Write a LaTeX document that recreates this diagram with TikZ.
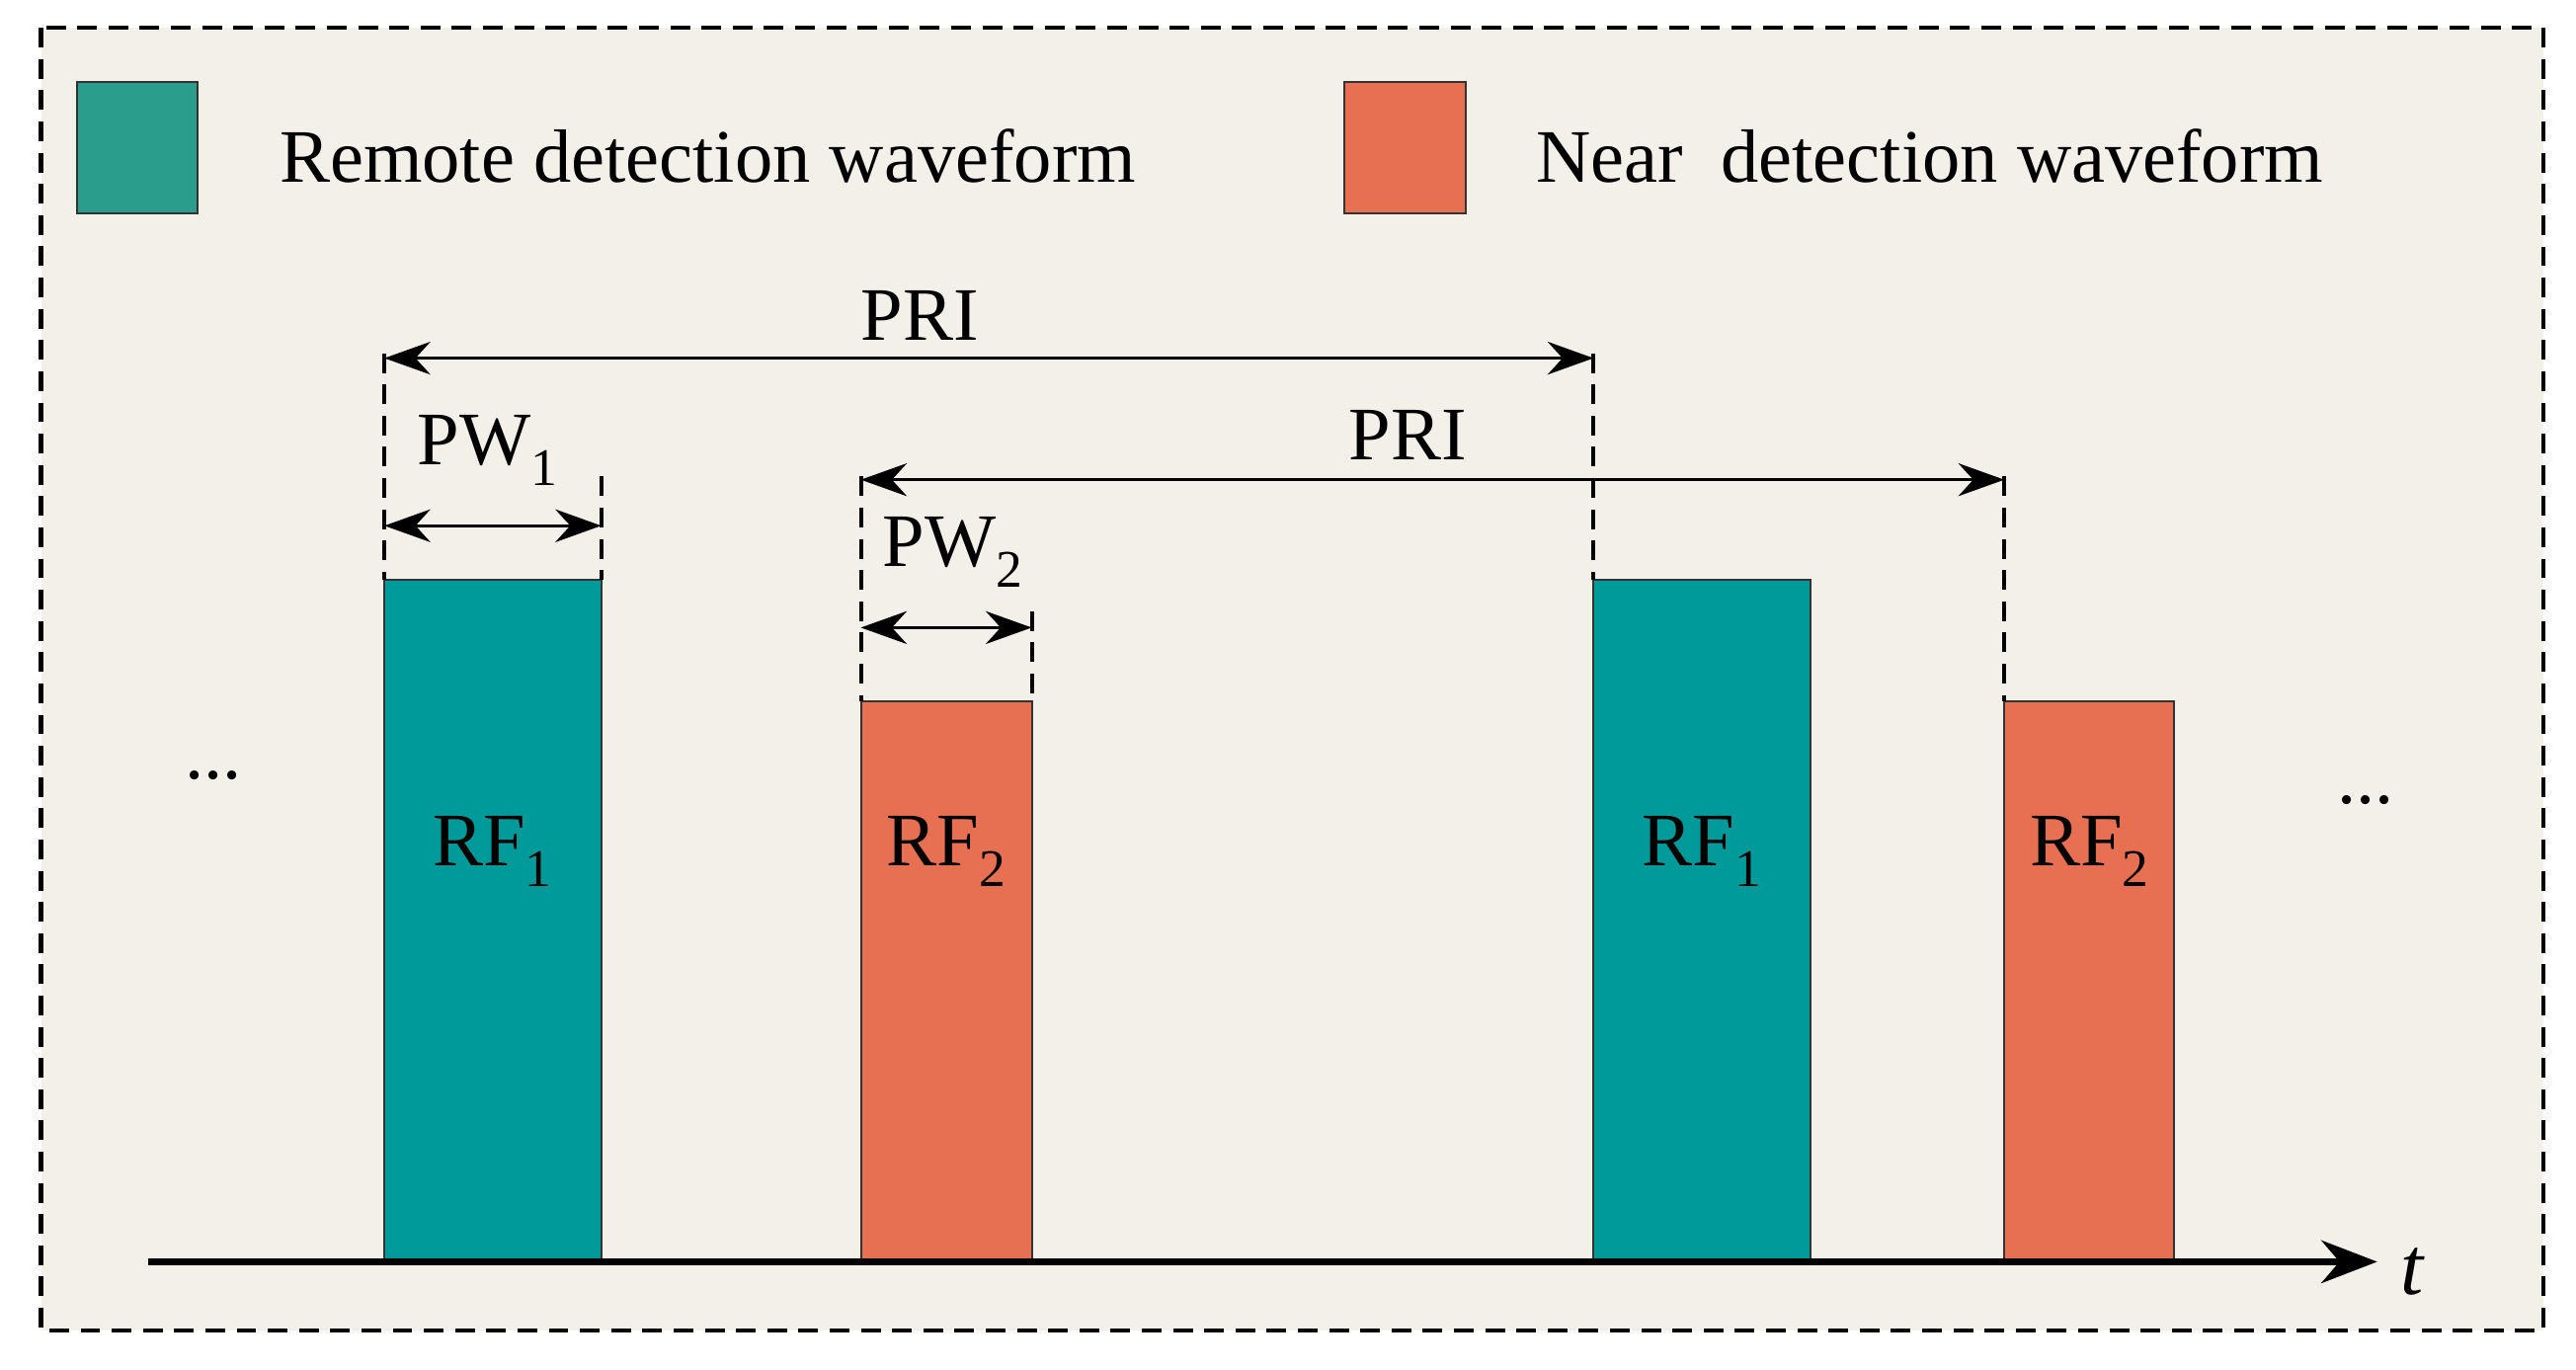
\documentclass[tikz,border=0pt]{standalone}
\usepackage{fontspec}
\setmainfont{Liberation Serif}
\usetikzlibrary{arrows.meta}
\definecolor{bg}{HTML}{F3F0EA}
\definecolor{teal1}{HTML}{009A9A}
\definecolor{tealL}{HTML}{2A9D8C}
\definecolor{orng}{HTML}{E87052}
\tikzset{
 bigtxt/.style={font=\fontsize{46}{52}\selectfont, inner sep=0pt},
 bar/.style={draw=black!80, line width=1.2pt},
 guide/.style={dashed, dash pattern=on 12pt off 7pt, line width=2.4pt},
 dim/.style={line width=1.6pt, {Stealth[length=28pt,width=20pt]}-{Stealth[length=28pt,width=20pt]}},
}
\begin{document}
\begin{tikzpicture}[x=1pt,y=-1pt]
\useasboundingbox (0,0) rectangle (1568,833.4);
\draw[fill=bg, guide, line width=2.6pt] (25,17) rectangle (1548,810);
% legend
\node[bar, fill=tealL, minimum width=73pt, minimum height=80pt, inner sep=0pt] (lt) at (83.5,90) {};
\node[bigtxt, anchor=west] (ltx) at (170,95) {Remote detection waveform};
\node[bar, fill=orng, minimum width=74pt, minimum height=80pt, inner sep=0pt] (lo) at (855,90) {};
\node[bigtxt, anchor=west] (lox) at (935,95) {Near\ \ detection waveform};
% bars
\draw[bar, fill=teal1] (234,353) rectangle (366,768);
\draw[bar, fill=orng] (524,427) rectangle (628,768);
\draw[bar, fill=teal1] (970,353) rectangle (1102,768);
\draw[bar, fill=orng] (1220,427) rectangle (1323,768);
\node[bigtxt] (rf1a) at (300,518) {RF\textsubscript{1}};
\node[bigtxt] (rf2a) at (576,518) {RF\textsubscript{2}};
\node[bigtxt] (rf1b) at (1036,518) {RF\textsubscript{1}};
\node[bigtxt] (rf2b) at (1272,518) {RF\textsubscript{2}};
% axis
\coordinate (a0) at (90,768);
\coordinate (a1) at (1447,768);
\draw[line width=4pt, -{Stealth[length=34pt,width=26pt]}] (a0) -- (a1);
\node[bigtxt, font=\fontsize{50}{56}\selectfont\itshape] (t) at (1468,774) {t};
% guides
\draw[guide] (234,215) -- (234,353);
\draw[guide] (366,290) -- (366,353);
\draw[guide] (524,290) -- (524,427);
\draw[guide] (628,372) -- (628,427);
\draw[guide] (970,215) -- (970,353);
\draw[guide] (1220,290) -- (1220,427);
% dimensions
\coordinate (p1a) at (234,218); \coordinate (p1b) at (970,218);
\coordinate (p2a) at (524,292); \coordinate (p2b) at (1220,292);
\coordinate (w1a) at (234,320); \coordinate (w1b) at (366,320);
\coordinate (w2a) at (524,382); \coordinate (w2b) at (628,382);
\draw[dim] (p1a) -- (p1b);
\draw[dim] (p2a) -- (p2b);
\draw[dim] (w1a) -- (w1b);
\draw[dim] (w2a) -- (w2b);
\node[bigtxt] (pri1) at (560,192) {PRI};
\node[bigtxt] (pri2) at (857,265) {PRI};
\node[bigtxt] (pw1) at (297,274) {PW\textsubscript{1}};
\node[bigtxt] (pw2) at (580,336) {PW\textsubscript{2}};
\node[bigtxt] (d1) at (130,472) {...};
\node[bigtxt] (d2) at (1440,487) {...};
\end{tikzpicture}
\end{document}
